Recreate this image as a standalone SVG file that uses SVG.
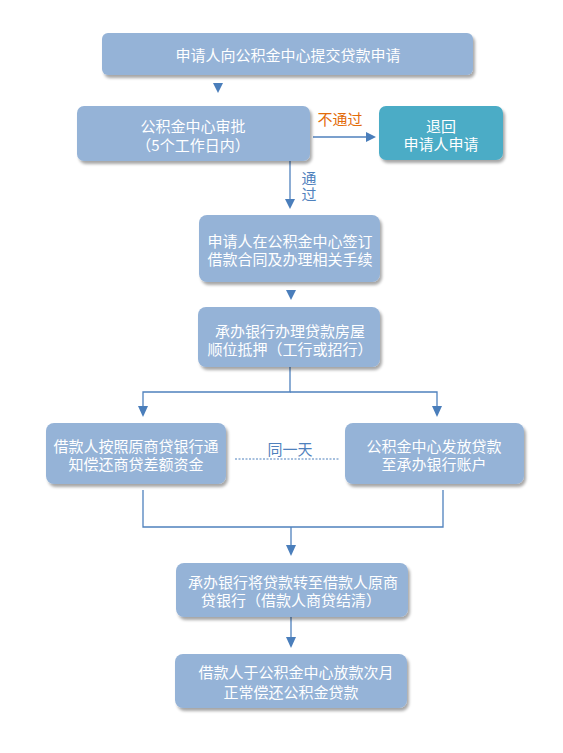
<svg xmlns="http://www.w3.org/2000/svg" width="563" height="753" viewBox="0 0 563 753">
<style>
.box{fill:#95B3D7;filter:url(#sh)}
.teal{fill:#4BACC6;filter:url(#sh)}
.t{font-family:"Noto Sans CJK SC","Microsoft YaHei",sans-serif;font-size:15px;fill:#fff;text-anchor:middle}
.ln{stroke:#4F81BD;stroke-width:1.3;fill:none}
.ah{fill:#4A7EBB}
.lab{font-family:"Noto Sans CJK SC",sans-serif;font-size:15px;text-anchor:middle}
</style>
<defs>
<filter id="sh" x="-10%" y="-20%" width="125%" height="150%">
<feGaussianBlur in="SourceAlpha" stdDeviation="1.5"/>
<feOffset dx="2" dy="3" result="o"/>
<feComponentTransfer><feFuncA type="linear" slope="0.35"/></feComponentTransfer>
<feMerge><feMergeNode/><feMergeNode in="SourceGraphic"/></feMerge>
</filter>
</defs>
<rect width="563" height="753" fill="#fff"/>
<g id="connectors">
<polygon class="ah" points="213,83 223,83 218,93"/>
<line class="ln" x1="313" y1="137" x2="367" y2="137"/>
<polygon class="ah" points="366,132 376,137 366,142"/>
<text class="lab" x="340" y="125" fill="#E36C0A">不通过</text>
<line class="ln" x1="290" y1="161" x2="290" y2="200"/>
<polygon class="ah" points="285,199 295,199 290,209"/>
<text class="lab" x="309" y="184" fill="#4F81BD">通</text>
<text class="lab" x="309" y="200" fill="#4F81BD">过</text>
<polygon class="ah" points="286,290 296,290 291,300"/>
<polyline class="ln" points="290,367 290,392 143,392 143,408"/>
<polyline class="ln" points="290,392 437,392 437,408"/>
<polygon class="ah" points="138,406 148,406 143,417"/>
<polygon class="ah" points="432,406 442,406 437,417"/>
<line x1="235" y1="459" x2="339" y2="459" stroke="#4F81BD" stroke-width="1" stroke-dasharray="2,1.5"/>
<text class="lab" x="290" y="455" fill="#4F81BD">同一天</text>
<polyline class="ln" points="143,490 143,527 443,527 443,490"/>
<line class="ln" x1="291" y1="527" x2="291" y2="546"/>
<polygon class="ah" points="286,545 296,545 291,556"/>
<line class="ln" x1="291" y1="617" x2="291" y2="638"/>
<polygon class="ah" points="286,637 296,637 291,648"/>
</g>
<g id="n1"><rect class="box" x="102" y="33" width="371" height="42" rx="6"/><text class="t" x="288" y="61">申请人向公积金中心提交贷款申请</text></g>
<g id="n2"><rect class="box" x="77" y="106" width="233" height="55" rx="7"/><text class="t" x="193" y="132">公积金中心审批</text><text class="t" x="193" y="151">（5个工作日内）</text></g>
<g id="n3"><rect class="teal" x="379" y="106" width="124" height="54" rx="7"/><text class="t" x="441" y="132">退回</text><text class="t" x="441" y="150">申请人申请</text></g>
<g id="n4"><rect class="box" x="199" y="215" width="181" height="67" rx="8"/><text class="t" x="290" y="247">申请人在公积金中心签订</text><text class="t" x="290" y="265">借款合同及办理相关手续</text></g>
<g id="n5"><rect class="box" x="198" y="307" width="182" height="60" rx="8"/><text class="t" x="290" y="337">承办银行办理贷款房屋</text><text class="t" x="290" y="355">顺位抵押（工行或招行）</text></g>
<g id="n6"><rect class="box" x="46" y="423" width="180" height="61" rx="8"/><text class="t" x="136" y="452">借款人按照原商贷银行通</text><text class="t" x="136" y="470">知偿还商贷差额资金</text></g>
<g id="n7"><rect class="box" x="345" y="423" width="179" height="61" rx="8"/><text class="t" x="434" y="452">公积金中心发放贷款</text><text class="t" x="434" y="470">至承办银行账户</text></g>
<g id="n8"><rect class="box" x="176" y="563" width="232" height="54" rx="8"/><text class="t" x="293" y="588">承办银行将贷款转至借款人原商</text><text class="t" x="291" y="606">贷银行（借款人商贷结清）</text></g>
<g id="n9"><rect class="box" x="175" y="654" width="232" height="54" rx="8"/><text class="t" x="296" y="678">借款人于公积金中心放款次月</text><text class="t" x="291" y="698">正常偿还公积金贷款</text></g>
</svg>
